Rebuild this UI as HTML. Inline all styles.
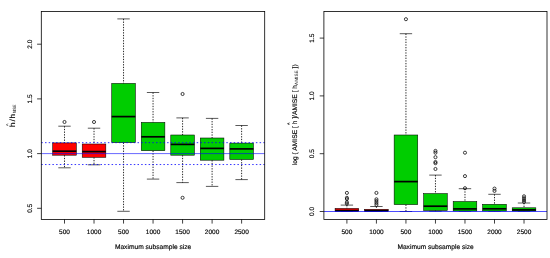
<!DOCTYPE html>
<html><head><meta charset="utf-8"><title>Boxplots</title>
<style>
html,body{margin:0;padding:0;background:#fff;}
svg{display:block;font-family:"Liberation Sans",sans-serif;fill:#000;}
text{stroke:#000;stroke-width:0.15px;text-rendering:geometricPrecision;}
</style></head><body>
<svg width="550" height="258" viewBox="0 0 550 258">
<rect width="550" height="258" fill="#fff"/>
<line x1="64.50" y1="126.20" x2="64.50" y2="142.90" stroke="#000" stroke-width="0.85" stroke-dasharray="1.33 1.33"/>
<line x1="64.50" y1="155.20" x2="64.50" y2="167.80" stroke="#000" stroke-width="0.85" stroke-dasharray="1.33 1.33"/>
<line x1="58.30" y1="126.20" x2="70.70" y2="126.20" stroke="#000" stroke-width="0.65"/>
<line x1="58.30" y1="167.80" x2="70.70" y2="167.80" stroke="#000" stroke-width="0.65"/>
<rect x="52.70" y="142.90" width="23.60" height="12.30" fill="#ff0000" stroke="#000" stroke-width="0.55"/>
<line x1="52.70" y1="151.20" x2="76.30" y2="151.20" stroke="#000" stroke-width="1.7"/>
<circle cx="64.50" cy="122.00" r="1.55" fill="none" stroke="#000" stroke-width="0.75"/>
<line x1="94.02" y1="128.20" x2="94.02" y2="144.00" stroke="#000" stroke-width="0.85" stroke-dasharray="1.33 1.33"/>
<line x1="94.02" y1="157.30" x2="94.02" y2="164.80" stroke="#000" stroke-width="0.85" stroke-dasharray="1.33 1.33"/>
<line x1="87.82" y1="128.20" x2="100.22" y2="128.20" stroke="#000" stroke-width="0.65"/>
<line x1="87.82" y1="164.80" x2="100.22" y2="164.80" stroke="#000" stroke-width="0.65"/>
<rect x="82.22" y="144.00" width="23.60" height="13.30" fill="#ff0000" stroke="#000" stroke-width="0.55"/>
<line x1="82.22" y1="151.60" x2="105.82" y2="151.60" stroke="#000" stroke-width="1.7"/>
<circle cx="94.02" cy="122.00" r="1.55" fill="none" stroke="#000" stroke-width="0.75"/>
<line x1="123.54" y1="18.90" x2="123.54" y2="83.40" stroke="#000" stroke-width="0.85" stroke-dasharray="1.33 1.33"/>
<line x1="123.54" y1="142.60" x2="123.54" y2="211.30" stroke="#000" stroke-width="0.85" stroke-dasharray="1.33 1.33"/>
<line x1="117.34" y1="18.90" x2="129.74" y2="18.90" stroke="#000" stroke-width="0.65"/>
<line x1="117.34" y1="211.30" x2="129.74" y2="211.30" stroke="#000" stroke-width="0.65"/>
<rect x="111.74" y="83.40" width="23.60" height="59.20" fill="#00cd00" stroke="#000" stroke-width="0.55"/>
<line x1="111.74" y1="116.60" x2="135.34" y2="116.60" stroke="#000" stroke-width="1.7"/>
<line x1="153.06" y1="92.50" x2="153.06" y2="122.40" stroke="#000" stroke-width="0.85" stroke-dasharray="1.33 1.33"/>
<line x1="153.06" y1="150.70" x2="153.06" y2="179.10" stroke="#000" stroke-width="0.85" stroke-dasharray="1.33 1.33"/>
<line x1="146.86" y1="92.50" x2="159.26" y2="92.50" stroke="#000" stroke-width="0.65"/>
<line x1="146.86" y1="179.10" x2="159.26" y2="179.10" stroke="#000" stroke-width="0.65"/>
<rect x="141.26" y="122.40" width="23.60" height="28.30" fill="#00cd00" stroke="#000" stroke-width="0.55"/>
<line x1="141.26" y1="136.80" x2="164.86" y2="136.80" stroke="#000" stroke-width="1.7"/>
<line x1="182.58" y1="117.90" x2="182.58" y2="135.00" stroke="#000" stroke-width="0.85" stroke-dasharray="1.33 1.33"/>
<line x1="182.58" y1="155.20" x2="182.58" y2="182.60" stroke="#000" stroke-width="0.85" stroke-dasharray="1.33 1.33"/>
<line x1="176.38" y1="117.90" x2="188.78" y2="117.90" stroke="#000" stroke-width="0.65"/>
<line x1="176.38" y1="182.60" x2="188.78" y2="182.60" stroke="#000" stroke-width="0.65"/>
<rect x="170.78" y="135.00" width="23.60" height="20.20" fill="#00cd00" stroke="#000" stroke-width="0.55"/>
<line x1="170.78" y1="144.40" x2="194.38" y2="144.40" stroke="#000" stroke-width="1.7"/>
<circle cx="182.58" cy="94.00" r="1.55" fill="none" stroke="#000" stroke-width="0.75"/>
<circle cx="182.58" cy="197.80" r="1.55" fill="none" stroke="#000" stroke-width="0.75"/>
<line x1="212.10" y1="118.40" x2="212.10" y2="138.00" stroke="#000" stroke-width="0.85" stroke-dasharray="1.33 1.33"/>
<line x1="212.10" y1="160.20" x2="212.10" y2="186.40" stroke="#000" stroke-width="0.85" stroke-dasharray="1.33 1.33"/>
<line x1="205.90" y1="118.40" x2="218.30" y2="118.40" stroke="#000" stroke-width="0.65"/>
<line x1="205.90" y1="186.40" x2="218.30" y2="186.40" stroke="#000" stroke-width="0.65"/>
<rect x="200.30" y="138.00" width="23.60" height="22.20" fill="#00cd00" stroke="#000" stroke-width="0.55"/>
<line x1="200.30" y1="148.40" x2="223.90" y2="148.40" stroke="#000" stroke-width="1.7"/>
<line x1="241.62" y1="125.50" x2="241.62" y2="143.10" stroke="#000" stroke-width="0.85" stroke-dasharray="1.33 1.33"/>
<line x1="241.62" y1="159.50" x2="241.62" y2="179.60" stroke="#000" stroke-width="0.85" stroke-dasharray="1.33 1.33"/>
<line x1="235.42" y1="125.50" x2="247.82" y2="125.50" stroke="#000" stroke-width="0.65"/>
<line x1="235.42" y1="179.60" x2="247.82" y2="179.60" stroke="#000" stroke-width="0.65"/>
<rect x="229.82" y="143.10" width="23.60" height="16.40" fill="#00cd00" stroke="#000" stroke-width="0.55"/>
<line x1="229.82" y1="148.90" x2="253.42" y2="148.90" stroke="#000" stroke-width="1.7"/>
<line x1="41.30" y1="153.60" x2="264.70" y2="153.60" stroke="#0000ff" stroke-width="0.6"/>
<line x1="41.30" y1="142.66" x2="264.70" y2="142.66" stroke="#0000ff" stroke-width="0.8" stroke-dasharray="1.5 2.2"/>
<line x1="41.30" y1="164.54" x2="264.70" y2="164.54" stroke="#0000ff" stroke-width="0.8" stroke-dasharray="1.5 2.2"/>
<rect x="41.3" y="11.5" width="223.40" height="207.90" fill="none" stroke="#000" stroke-width="0.8"/>
<line x1="64.50" y1="219.40" x2="64.50" y2="223.60" stroke="#000" stroke-width="0.75"/>
<text x="64.50" y="233.70" text-anchor="middle" font-size="6.5">500</text>
<line x1="94.02" y1="219.40" x2="94.02" y2="223.60" stroke="#000" stroke-width="0.75"/>
<text x="94.02" y="233.70" text-anchor="middle" font-size="6.5">1000</text>
<line x1="123.54" y1="219.40" x2="123.54" y2="223.60" stroke="#000" stroke-width="0.75"/>
<text x="123.54" y="233.70" text-anchor="middle" font-size="6.5">500</text>
<line x1="153.06" y1="219.40" x2="153.06" y2="223.60" stroke="#000" stroke-width="0.75"/>
<text x="153.06" y="233.70" text-anchor="middle" font-size="6.5">1000</text>
<line x1="182.58" y1="219.40" x2="182.58" y2="223.60" stroke="#000" stroke-width="0.75"/>
<text x="182.58" y="233.70" text-anchor="middle" font-size="6.5">1500</text>
<line x1="212.10" y1="219.40" x2="212.10" y2="223.60" stroke="#000" stroke-width="0.75"/>
<text x="212.10" y="233.70" text-anchor="middle" font-size="6.5">2000</text>
<line x1="241.62" y1="219.40" x2="241.62" y2="223.60" stroke="#000" stroke-width="0.75"/>
<text x="241.62" y="233.70" text-anchor="middle" font-size="6.5">2500</text>
<line x1="37.10" y1="208.30" x2="41.30" y2="208.30" stroke="#000" stroke-width="0.75"/>
<text x="31.90" y="208.30" text-anchor="middle" font-size="6.5" transform="rotate(-90 31.90 208.30)">0.5</text>
<line x1="37.10" y1="153.60" x2="41.30" y2="153.60" stroke="#000" stroke-width="0.75"/>
<text x="31.90" y="153.60" text-anchor="middle" font-size="6.5" transform="rotate(-90 31.90 153.60)">1.0</text>
<line x1="37.10" y1="98.90" x2="41.30" y2="98.90" stroke="#000" stroke-width="0.75"/>
<text x="31.90" y="98.90" text-anchor="middle" font-size="6.5" transform="rotate(-90 31.90 98.90)">1.5</text>
<line x1="37.10" y1="44.20" x2="41.30" y2="44.20" stroke="#000" stroke-width="0.75"/>
<text x="31.90" y="44.20" text-anchor="middle" font-size="6.5" transform="rotate(-90 31.90 44.20)">2.0</text>
<text x="153.10" y="249.40" text-anchor="middle" font-size="6.65">Maximum subsample size</text>
<g transform="translate(14.6 126.9) rotate(-90)"><text x="0" y="0" font-size="7.6" style="stroke-width:0.1px" transform="scale(1.1 1)"><tspan letter-spacing="0.65">h/h</tspan></text><text x="13.6" y="1.6" font-size="4.6" style="stroke:none" textLength="8.6" lengthAdjust="spacingAndGlyphs">MISE</text></g>
<text x="9.9" y="124.6" text-anchor="middle" font-size="5.5" style="stroke:none" transform="rotate(-90 9.9 124.6)">^</text>
<line x1="346.90" y1="205.10" x2="346.90" y2="208.40" stroke="#000" stroke-width="0.85" stroke-dasharray="1.33 1.33"/>
<line x1="346.90" y1="211.20" x2="346.90" y2="211.30" stroke="#000" stroke-width="0.85" stroke-dasharray="1.33 1.33"/>
<line x1="340.70" y1="205.10" x2="353.10" y2="205.10" stroke="#000" stroke-width="0.65"/>
<line x1="340.70" y1="211.30" x2="353.10" y2="211.30" stroke="#000" stroke-width="0.65"/>
<rect x="335.10" y="208.40" width="23.60" height="2.80" fill="#ff0000" stroke="#000" stroke-width="0.55"/>
<line x1="335.10" y1="210.60" x2="358.70" y2="210.60" stroke="#000" stroke-width="1.7"/>
<circle cx="346.90" cy="192.90" r="1.55" fill="none" stroke="#000" stroke-width="0.75"/>
<circle cx="346.90" cy="197.80" r="1.55" fill="none" stroke="#000" stroke-width="0.75"/>
<circle cx="346.90" cy="199.10" r="1.55" fill="none" stroke="#000" stroke-width="0.75"/>
<circle cx="346.90" cy="202.30" r="1.55" fill="none" stroke="#000" stroke-width="0.75"/>
<circle cx="346.90" cy="203.60" r="1.55" fill="none" stroke="#000" stroke-width="0.75"/>
<line x1="376.42" y1="206.50" x2="376.42" y2="209.30" stroke="#000" stroke-width="0.85" stroke-dasharray="1.33 1.33"/>
<line x1="376.42" y1="211.20" x2="376.42" y2="211.30" stroke="#000" stroke-width="0.85" stroke-dasharray="1.33 1.33"/>
<line x1="370.22" y1="206.50" x2="382.62" y2="206.50" stroke="#000" stroke-width="0.65"/>
<line x1="370.22" y1="211.30" x2="382.62" y2="211.30" stroke="#000" stroke-width="0.65"/>
<rect x="364.62" y="209.30" width="23.60" height="1.90" fill="#ff0000" stroke="#000" stroke-width="0.55"/>
<line x1="364.62" y1="210.70" x2="388.22" y2="210.70" stroke="#000" stroke-width="1.7"/>
<circle cx="376.42" cy="192.90" r="1.55" fill="none" stroke="#000" stroke-width="0.75"/>
<circle cx="376.42" cy="199.30" r="1.55" fill="none" stroke="#000" stroke-width="0.75"/>
<circle cx="376.42" cy="201.00" r="1.55" fill="none" stroke="#000" stroke-width="0.75"/>
<circle cx="376.42" cy="202.90" r="1.55" fill="none" stroke="#000" stroke-width="0.75"/>
<circle cx="376.42" cy="204.80" r="1.55" fill="none" stroke="#000" stroke-width="0.75"/>
<line x1="405.94" y1="33.70" x2="405.94" y2="135.00" stroke="#000" stroke-width="0.85" stroke-dasharray="1.33 1.33"/>
<line x1="405.94" y1="204.60" x2="405.94" y2="211.50" stroke="#000" stroke-width="0.85" stroke-dasharray="1.33 1.33"/>
<line x1="399.74" y1="33.70" x2="412.14" y2="33.70" stroke="#000" stroke-width="0.65"/>
<line x1="399.74" y1="211.50" x2="412.14" y2="211.50" stroke="#000" stroke-width="0.65"/>
<rect x="394.14" y="135.00" width="23.60" height="69.60" fill="#00cd00" stroke="#000" stroke-width="0.55"/>
<line x1="394.14" y1="181.60" x2="417.74" y2="181.60" stroke="#000" stroke-width="1.7"/>
<circle cx="405.94" cy="19.20" r="1.55" fill="none" stroke="#000" stroke-width="0.75"/>
<line x1="435.46" y1="175.10" x2="435.46" y2="193.60" stroke="#000" stroke-width="0.85" stroke-dasharray="1.33 1.33"/>
<line x1="435.46" y1="210.50" x2="435.46" y2="211.20" stroke="#000" stroke-width="0.85" stroke-dasharray="1.33 1.33"/>
<line x1="429.26" y1="175.10" x2="441.66" y2="175.10" stroke="#000" stroke-width="0.65"/>
<line x1="429.26" y1="211.20" x2="441.66" y2="211.20" stroke="#000" stroke-width="0.65"/>
<rect x="423.66" y="193.60" width="23.60" height="16.90" fill="#00cd00" stroke="#000" stroke-width="0.55"/>
<line x1="423.66" y1="206.20" x2="447.26" y2="206.20" stroke="#000" stroke-width="1.7"/>
<circle cx="435.46" cy="169.00" r="1.55" fill="none" stroke="#000" stroke-width="0.75"/>
<circle cx="435.46" cy="163.20" r="1.55" fill="none" stroke="#000" stroke-width="0.75"/>
<circle cx="435.46" cy="162.00" r="1.55" fill="none" stroke="#000" stroke-width="0.75"/>
<circle cx="435.46" cy="157.20" r="1.55" fill="none" stroke="#000" stroke-width="0.75"/>
<circle cx="435.46" cy="152.70" r="1.55" fill="none" stroke="#000" stroke-width="0.75"/>
<circle cx="435.46" cy="150.90" r="1.55" fill="none" stroke="#000" stroke-width="0.75"/>
<line x1="464.98" y1="188.70" x2="464.98" y2="201.50" stroke="#000" stroke-width="0.85" stroke-dasharray="1.33 1.33"/>
<line x1="464.98" y1="211.00" x2="464.98" y2="211.20" stroke="#000" stroke-width="0.85" stroke-dasharray="1.33 1.33"/>
<line x1="458.78" y1="188.70" x2="471.18" y2="188.70" stroke="#000" stroke-width="0.65"/>
<line x1="458.78" y1="211.20" x2="471.18" y2="211.20" stroke="#000" stroke-width="0.65"/>
<rect x="453.18" y="201.50" width="23.60" height="9.50" fill="#00cd00" stroke="#000" stroke-width="0.55"/>
<line x1="453.18" y1="208.90" x2="476.78" y2="208.90" stroke="#000" stroke-width="1.7"/>
<circle cx="464.98" cy="188.20" r="1.55" fill="none" stroke="#000" stroke-width="0.75"/>
<circle cx="464.98" cy="176.10" r="1.55" fill="none" stroke="#000" stroke-width="0.75"/>
<circle cx="464.98" cy="152.70" r="1.55" fill="none" stroke="#000" stroke-width="0.75"/>
<line x1="494.50" y1="194.30" x2="494.50" y2="204.30" stroke="#000" stroke-width="0.85" stroke-dasharray="1.33 1.33"/>
<line x1="494.50" y1="211.00" x2="494.50" y2="211.20" stroke="#000" stroke-width="0.85" stroke-dasharray="1.33 1.33"/>
<line x1="488.30" y1="194.30" x2="500.70" y2="194.30" stroke="#000" stroke-width="0.65"/>
<line x1="488.30" y1="211.20" x2="500.70" y2="211.20" stroke="#000" stroke-width="0.65"/>
<rect x="482.70" y="204.30" width="23.60" height="6.70" fill="#00cd00" stroke="#000" stroke-width="0.55"/>
<line x1="482.70" y1="208.80" x2="506.30" y2="208.80" stroke="#000" stroke-width="1.7"/>
<circle cx="494.50" cy="190.90" r="1.55" fill="none" stroke="#000" stroke-width="0.75"/>
<circle cx="494.50" cy="188.60" r="1.55" fill="none" stroke="#000" stroke-width="0.75"/>
<line x1="524.02" y1="203.00" x2="524.02" y2="207.80" stroke="#000" stroke-width="0.85" stroke-dasharray="1.33 1.33"/>
<line x1="524.02" y1="211.00" x2="524.02" y2="211.20" stroke="#000" stroke-width="0.85" stroke-dasharray="1.33 1.33"/>
<line x1="517.82" y1="203.00" x2="530.22" y2="203.00" stroke="#000" stroke-width="0.65"/>
<line x1="517.82" y1="211.20" x2="530.22" y2="211.20" stroke="#000" stroke-width="0.65"/>
<rect x="512.22" y="207.80" width="23.60" height="3.20" fill="#00cd00" stroke="#000" stroke-width="0.55"/>
<line x1="512.22" y1="209.90" x2="535.82" y2="209.90" stroke="#000" stroke-width="1.7"/>
<circle cx="524.02" cy="196.30" r="1.55" fill="none" stroke="#000" stroke-width="0.75"/>
<circle cx="524.02" cy="198.20" r="1.55" fill="none" stroke="#000" stroke-width="0.75"/>
<circle cx="524.02" cy="200.10" r="1.55" fill="none" stroke="#000" stroke-width="0.75"/>
<circle cx="524.02" cy="201.80" r="1.55" fill="none" stroke="#000" stroke-width="0.75"/>
<line x1="323.90" y1="211.50" x2="547.00" y2="211.50" stroke="#0000ff" stroke-width="0.7"/>
<rect x="323.9" y="11.5" width="223.10" height="207.90" fill="none" stroke="#000" stroke-width="0.8"/>
<line x1="346.90" y1="219.40" x2="346.90" y2="223.60" stroke="#000" stroke-width="0.75"/>
<text x="346.90" y="233.70" text-anchor="middle" font-size="6.5">500</text>
<line x1="376.42" y1="219.40" x2="376.42" y2="223.60" stroke="#000" stroke-width="0.75"/>
<text x="376.42" y="233.70" text-anchor="middle" font-size="6.5">1000</text>
<line x1="405.94" y1="219.40" x2="405.94" y2="223.60" stroke="#000" stroke-width="0.75"/>
<text x="405.94" y="233.70" text-anchor="middle" font-size="6.5">500</text>
<line x1="435.46" y1="219.40" x2="435.46" y2="223.60" stroke="#000" stroke-width="0.75"/>
<text x="435.46" y="233.70" text-anchor="middle" font-size="6.5">1000</text>
<line x1="464.98" y1="219.40" x2="464.98" y2="223.60" stroke="#000" stroke-width="0.75"/>
<text x="464.98" y="233.70" text-anchor="middle" font-size="6.5">1500</text>
<line x1="494.50" y1="219.40" x2="494.50" y2="223.60" stroke="#000" stroke-width="0.75"/>
<text x="494.50" y="233.70" text-anchor="middle" font-size="6.5">2000</text>
<line x1="524.02" y1="219.40" x2="524.02" y2="223.60" stroke="#000" stroke-width="0.75"/>
<text x="524.02" y="233.70" text-anchor="middle" font-size="6.5">2500</text>
<line x1="319.70" y1="211.50" x2="323.90" y2="211.50" stroke="#000" stroke-width="0.75"/>
<text x="314.40" y="211.50" text-anchor="middle" font-size="6.5" transform="rotate(-90 314.40 211.50)">0.0</text>
<line x1="319.70" y1="153.70" x2="323.90" y2="153.70" stroke="#000" stroke-width="0.75"/>
<text x="314.40" y="153.70" text-anchor="middle" font-size="6.5" transform="rotate(-90 314.40 153.70)">0.5</text>
<line x1="319.70" y1="95.90" x2="323.90" y2="95.90" stroke="#000" stroke-width="0.75"/>
<text x="314.40" y="95.90" text-anchor="middle" font-size="6.5" transform="rotate(-90 314.40 95.90)">1.0</text>
<line x1="319.70" y1="38.10" x2="323.90" y2="38.10" stroke="#000" stroke-width="0.75"/>
<text x="314.40" y="38.10" text-anchor="middle" font-size="6.5" transform="rotate(-90 314.40 38.10)">1.5</text>
<text x="435.60" y="249.40" text-anchor="middle" font-size="6.65">Maximum subsample size</text>
<text x="296.8" y="165.2" font-size="6.7" transform="rotate(-90 296.8 165.2)">log ( AMISE [ h ]/AMISE [ h<tspan font-size="4.7" dy="1.3" style="stroke:none">AMISE</tspan><tspan dy="-1.3"> ])</tspan></text>
<text x="291" y="123.7" text-anchor="middle" font-size="5" transform="rotate(-90 291 123.7)">^</text>
</svg>
</body></html>
